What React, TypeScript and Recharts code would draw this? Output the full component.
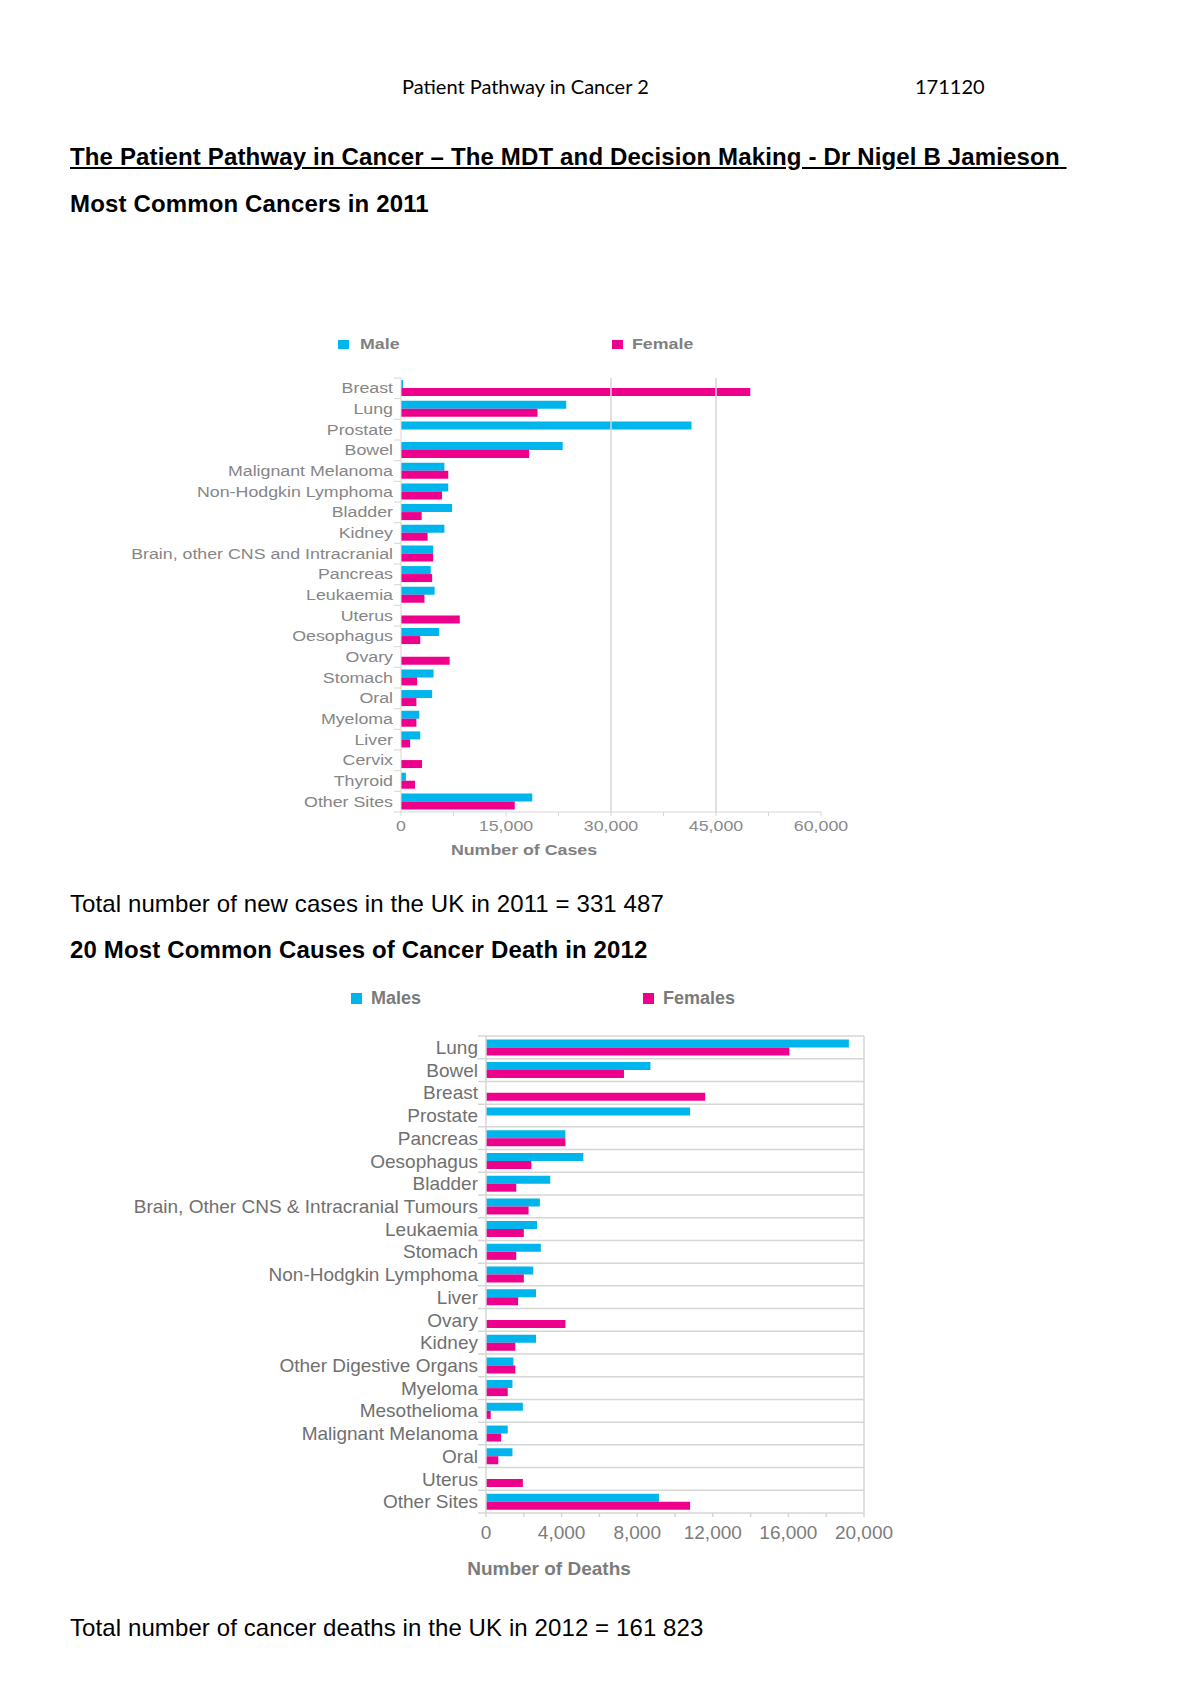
import React from "react";
import { BarChart, Bar, XAxis, YAxis, ReferenceLine } from "recharts";

// Most common cancers, 2011 (new cases)
const cancerSites = [
  "Breast",
  "Lung",
  "Prostate",
  "Bowel",
  "Malignant Melanoma",
  "Non-Hodgkin Lymphoma",
  "Bladder",
  "Kidney",
  "Brain, other CNS and Intracranial",
  "Pancreas",
  "Leukaemia",
  "Uterus",
  "Oesophagus",
  "Ovary",
  "Stomach",
  "Oral",
  "Myeloma",
  "Liver",
  "Cervix",
  "Thyroid",
  "Other Sites",
];
const maleCases = [300, 23600, 41500, 23100, 6200, 6750, 7300, 6200, 4600, 4250, 4800, 0, 5450, 0, 4650, 4450, 2600, 2750, 0, 700, 18750];
const femaleCases = [49900, 19500, 0, 18300, 6750, 5850, 2950, 3800, 4600, 4450, 3350, 8400, 2750, 6950, 2300, 2200, 2200, 1300, 3000, 2000, 16250];
const caseTicks = [0, 7500, 15000, 22500, 30000, 37500, 45000, 52500, 60000];
const caseGridValues = [30000, 45000];

// 20 most common causes of cancer death, 2012
const deathSites = [
  "Lung",
  "Bowel",
  "Breast",
  "Prostate",
  "Pancreas",
  "Oesophagus",
  "Bladder",
  "Brain, Other CNS & Intracranial Tumours",
  "Leukaemia",
  "Stomach",
  "Non-Hodgkin Lymphoma",
  "Liver",
  "Ovary",
  "Kidney",
  "Other Digestive Organs",
  "Myeloma",
  "Mesothelioma",
  "Malignant Melanoma",
  "Oral",
  "Uterus",
  "Other Sites",
];
const maleDeaths = [19200, 8700, 0, 10800, 4200, 5150, 3400, 2850, 2700, 2900, 2500, 2650, 0, 2650, 1450, 1400, 1950, 1150, 1400, 0, 9150];
const femaleDeaths = [16050, 7300, 11600, 0, 4200, 2400, 1600, 2250, 2000, 1600, 2000, 1700, 4200, 1550, 1550, 1150, 250, 800, 650, 1950, 10800];
const deathTicks = [0, 2000, 4000, 6000, 8000, 10000, 12000, 14000, 16000, 18000, 20000];

const MALE = "#00b4ec";
const FEMALE = "#ec008c";
const LINE = "#d6d6d6";
const ARIAL = "'Liberation Sans', Arial, sans-serif";
const SX = 1.27; // first chart is stretched sideways in the source document
const PLOT2_W = 378;

const casesData = cancerSites.map((site, i) => ({ site, male: maleCases[i], female: femaleCases[i] }));
const deathsData = deathSites.map((site, i) => ({ site, male: maleDeaths[i], female: femaleDeaths[i] }));

const fmt = (v: number) => v.toLocaleString("en-US");

function CaseSiteTick(props: any) {
  const { x, y, payload, index, visibleTicksCount } = props;
  const half = payload?.offset ?? 10.35;
  const last = index === visibleTicksCount - 1;
  return (
    <g>
      <line x1={x} x2={x + 7} y1={y - half} y2={y - half} stroke={LINE} />
      {last && <line x1={x} x2={x + 7} y1={y + half} y2={y + half} stroke={LINE} />}
      <text
        transform={`translate(${x - 1},${y}) scale(${SX},1)`}
        textAnchor="end"
        dy="0.35em"
        fontSize={14}
        fill="#868686"
        fontFamily={ARIAL}
      >
        {payload.value}
      </text>
    </g>
  );
}

function CaseValueTick(props: any) {
  const { x, y, payload } = props;
  if (payload.value % 15000 !== 0) return <g />;
  return (
    <text
      transform={`translate(${x},${y}) scale(${SX},1)`}
      textAnchor="middle"
      dy="0.71em"
      fontSize={14}
      fill="#8a8a8a"
      fontFamily={ARIAL}
    >
      {fmt(payload.value)}
    </text>
  );
}

function DeathSiteTick(props: any) {
  const { x, y, payload, index, visibleTicksCount } = props;
  const half = payload?.offset ?? 11.35;
  const last = index === visibleTicksCount - 1;
  return (
    <g>
      <line x1={x} x2={x + 8 + PLOT2_W} y1={y - half} y2={y - half} stroke={LINE} strokeWidth={1.5} />
      {last && <line x1={x} x2={x + 8} y1={y + half} y2={y + half} stroke={LINE} strokeWidth={1.5} />}
      <text x={x} y={y} textAnchor="end" dy="0.35em" fontSize={19} fill="#707070" fontFamily={ARIAL}>
        {payload.value}
      </text>
    </g>
  );
}

function DeathValueTick(props: any) {
  const { x, y, payload } = props;
  if (payload.value % 4000 !== 0) return <g />;
  return (
    <text x={x} y={y} textAnchor="middle" dy="0.71em" fontSize={19} fill="#7c7c7c" fontFamily={ARIAL}>
      {fmt(payload.value)}
    </text>
  );
}

const abs = (left: number, top: number, extra: React.CSSProperties = {}): React.CSSProperties => ({
  position: "absolute",
  left,
  top,
  whiteSpace: "nowrap",
  ...extra,
});

function Swatch({ left, top, w, h, color }: { left: number; top: number; w: number; h: number; color: string }) {
  return <div style={abs(left, top, { width: w, height: h, background: color })} />;
}

const heading: React.CSSProperties = { fontSize: 24, lineHeight: "26px", fontWeight: "bold", letterSpacing: "0.15px" };
const body: React.CSSProperties = { fontSize: 24, lineHeight: "26px", letterSpacing: "0.1px" };

export default function App() {
  return (
    <div style={{ position: "absolute", left: 0, top: 0, width: 1200, height: 1698, background: "#fff", fontFamily: ARIAL, color: "#000" }}>
      {/* page header */}
      <div style={abs(402, 75, { fontFamily: "Lato, sans-serif", fontSize: 20, lineHeight: "22px" })}>Patient Pathway in Cancer 2</div>
      <div style={abs(915, 75, { fontFamily: "Lato, sans-serif", fontSize: 20, lineHeight: "22px" })}>171120</div>

      <div style={abs(70, 144, { ...heading, textDecoration: "underline" })}>
        The Patient Pathway in Cancer – The MDT and Decision Making - Dr Nigel B Jamieson{"\u00a0"}
      </div>
      <div style={abs(70, 191, heading)}>Most Common Cancers in 2011</div>

      {/* chart 1 legend */}
      <Swatch left={338} top={340} w={11} h={9} color={MALE} />
      <div style={abs(360, 336, { fontSize: 14, lineHeight: "16px", fontWeight: "bold", color: "#808080", transform: `scaleX(${SX})`, transformOrigin: "left center" })}>Male</div>
      <Swatch left={612} top={340} w={11} h={9} color={FEMALE} />
      <div style={abs(632, 336, { fontSize: 14, lineHeight: "16px", fontWeight: "bold", color: "#808080", transform: `scaleX(${SX})`, transformOrigin: "left center" })}>Female</div>

      <div style={abs(0, 300)}>
        <BarChart
          width={900}
          height={560}
          data={casesData}
          layout="vertical"
          margin={{ top: 78, right: 79, bottom: 0, left: 0 }}
          barCategoryGap="10%"
          barGap={0}
        >
          <XAxis
            type="number"
            domain={[0, 60000]}
            ticks={caseTicks}
            interval={0}
            tick={<CaseValueTick />}
            tickSize={4}
            tickMargin={5}
            height={48}
            axisLine={{ stroke: LINE }}
            tickLine={{ stroke: LINE }}
          />
          <XAxis xAxisId="top" orientation="top" type="number" domain={[0, 60000]} height={0} tick={false} tickLine={false} axisLine={{ stroke: LINE, strokeWidth: 1.5 }} />
          <YAxis
            type="category"
            dataKey="site"
            width={401}
            interval={0}
            tickSize={7}
            tickMargin={0}
            tickLine={false}
            axisLine={{ stroke: LINE }}
            tick={<CaseSiteTick />}
          />
          {caseGridValues.map((v) => (
            <ReferenceLine key={v} x={v} stroke={LINE} strokeWidth={1.5} />
          ))}
          <Bar dataKey="male" fill={MALE} isAnimationActive={false} />
          <Bar dataKey="female" fill={FEMALE} isAnimationActive={false} />
        </BarChart>
      </div>

      <div style={abs(524, 842, { fontSize: 14, lineHeight: "16px", fontWeight: "bold", color: "#808080", transform: `translateX(-50%) scaleX(${SX})` })}>
        Number of Cases
      </div>

      <div style={abs(70, 891, body)}>Total number of new cases in the UK in 2011 = 331 487</div>
      <div style={abs(70, 937, heading)}>20 Most Common Causes of Cancer Death in 2012</div>

      {/* chart 2 legend */}
      <Swatch left={351} top={993} w={11} h={11} color={MALE} />
      <div style={abs(371, 988, { fontSize: 18, lineHeight: "20px", fontWeight: "bold", color: "#7a7a7a" })}>Males</div>
      <Swatch left={643} top={993} w={11} h={11} color={FEMALE} />
      <div style={abs(663, 988, { fontSize: 18, lineHeight: "20px", fontWeight: "bold", color: "#7a7a7a" })}>Females</div>

      <div style={abs(0, 980)}>
        <BarChart
          width={950}
          height={580}
          data={deathsData}
          layout="vertical"
          margin={{ top: 56, right: 86, bottom: 0, left: 0 }}
          barCategoryGap="15%"
          barGap={0}
        >
          <XAxis
            type="number"
            domain={[0, 20000]}
            ticks={deathTicks}
            interval={0}
            tick={<DeathValueTick />}
            tickSize={4}
            tickMargin={9}
            height={47}
            axisLine={{ stroke: LINE, strokeWidth: 1.5 }}
            tickLine={{ stroke: LINE, strokeWidth: 1.5 }}
          />
          <XAxis xAxisId="top" orientation="top" type="number" domain={[0, 20000]} height={0} tick={false} tickLine={false} axisLine={{ stroke: LINE, strokeWidth: 1.5 }} />
          <YAxis
            type="category"
            dataKey="site"
            width={486}
            interval={0}
            tickSize={8}
            tickMargin={0}
            tickLine={false}
            axisLine={{ stroke: LINE, strokeWidth: 1.5 }}
            tick={<DeathSiteTick />}
          />
          <ReferenceLine x={20000} stroke={LINE} strokeWidth={1.5} />
          <Bar dataKey="male" fill={MALE} isAnimationActive={false} />
          <Bar dataKey="female" fill={FEMALE} isAnimationActive={false} />
        </BarChart>
      </div>

      <div style={abs(549, 1558, { fontSize: 19, lineHeight: "22px", fontWeight: "bold", color: "#7c7c7c", transform: "translateX(-50%)" })}>
        Number of Deaths
      </div>

      <div style={abs(70, 1615, body)}>Total number of cancer deaths in the UK in 2012 = 161 823</div>
    </div>
  );
}
